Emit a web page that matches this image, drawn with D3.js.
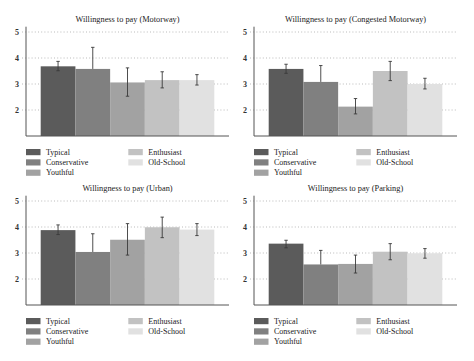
<!DOCTYPE html>
<html>
<head>
<meta charset="utf-8">
<script src="https://cdn.jsdelivr.net/npm/d3@7"></script>
<style>
body { margin: 0; background: #fff; }
svg text { font-family: "Liberation Serif", "DejaVu Serif", serif; fill: #222; }
</style>
</head>
<body>
<div id="chart"></div>
<script>
// groups of drivers, same for every panel
var groups = ["Typical", "Conservative", "Youthful", "Enthusiast", "Old-School"];
var colors = ["#5b5b5b", "#808080", "#a2a2a2", "#c2c2c2", "#e1e1e1"];
var yTicks = [2, 3, 4, 5];

// mean and confidence bounds
var motorwayMean = [3.68, 3.58, 3.06, 3.15, 3.15];
var motorwayLow = [3.51, 3.58, 2.53, 2.85, 2.96];
var motorwayHigh = [3.87, 4.41, 3.62, 3.47, 3.36];

var congestedMean = [3.58, 3.08, 2.13, 3.50, 3.00];
var congestedLow = [3.41, 3.08, 1.85, 3.13, 2.81];
var congestedHigh = [3.76, 3.71, 2.44, 3.87, 3.22];

var urbanMean = [3.88, 3.04, 3.51, 3.99, 3.90];
var urbanLow = [3.71, 3.04, 2.92, 3.59, 3.67];
var urbanHigh = [4.08, 3.74, 4.13, 4.38, 4.13];

var parkingMean = [3.36, 2.56, 2.58, 3.05, 2.99];
var parkingLow = [3.20, 2.56, 2.23, 2.74, 2.80];
var parkingHigh = [3.49, 3.10, 2.92, 3.36, 3.17];

var panels = [
    {title: "Willingness to pay (Motorway)", mean: motorwayMean, low: motorwayLow, high: motorwayHigh, x: 26, y: 0},
    {title: "Willingness to pay (Congested Motorway)", mean: congestedMean, low: congestedLow, high: congestedHigh, x: 254, y: 0},
    {title: "Willingness to pay (Urban)", mean: urbanMean, low: urbanLow, high: urbanHigh, x: 26, y: 169},
    {title: "Willingness to pay (Parking)", mean: parkingMean, low: parkingLow, high: parkingHigh, x: 254, y: 169}
];

var svg = d3.select("#chart")
    .append("svg")
    .attr("width", 474)
    .attr("height", 361);

var plotW = 203;

function drawPanel(p) {
    "use strict";
    var g = svg.append("g").attr("transform", "translate(" + p.x + "," + p.y + ")");

    //Scales: bars take the middle of the axis, equal padding both sides
    var x = d3.scaleBand()
        .domain(groups)
        .range([14.7, plotW - 14.7])
        .padding(0);
    var y = d3.scaleLinear()
        .domain([1, 5.2])
        .range([136, 26.8]);

    //Title
    g.append("text")
        .attr("x", plotW / 2)
        .attr("y", 22)
        .attr("text-anchor", "middle")
        .style("font-size", "8.3px")
        .text(p.title);

    //Dotted grid lines behind the bars
    g.selectAll(".grid")
        .data(yTicks)
        .enter()
        .append("line")
        .attr("x1", -4)
        .attr("x2", plotW)
        .attr("y1", function (d) { return y(d); })
        .attr("y2", function (d) { return y(d); })
        .attr("stroke", "#aaa")
        .attr("stroke-width", 0.8)
        .attr("stroke-dasharray", "1,2.2");

    //Y axis with tick labels
    var yAxis = g.append("g")
        .call(d3.axisLeft(y).tickValues(yTicks).tickSize(0).tickPadding(7).tickFormat(d3.format("d")));
    yAxis.select(".domain").remove();
    yAxis.selectAll("text")
        .style("font-size", "8px")
        .style("font-weight", "bold")
        .style("fill", "#333");

    //Bars
    g.selectAll(".bar")
        .data(groups)
        .enter()
        .append("rect")
        .attr("x", function (d) { return x(d); })
        .attr("width", x.bandwidth())
        .attr("y", function (d, i) { return y(p.mean[i]); })
        .attr("height", function (d, i) { return y(1) - y(p.mean[i]); })
        .attr("fill", function (d, i) { return colors[i]; });

    //Error bars
    var err = g.selectAll(".err")
        .data(groups)
        .enter()
        .append("g")
        .attr("transform", function (d) { return "translate(" + (x(d) + x.bandwidth() / 2) + ",0)"; });
    err.append("line")
        .attr("y1", function (d, i) { return y(p.low[i]); })
        .attr("y2", function (d, i) { return y(p.high[i]); })
        .attr("stroke", "#3a3a3a")
        .attr("stroke-width", 0.9);
    err.append("line")
        .attr("x1", -1.7)
        .attr("x2", 1.7)
        .attr("y1", function (d, i) { return y(p.high[i]); })
        .attr("y2", function (d, i) { return y(p.high[i]); })
        .attr("stroke", "#3a3a3a")
        .attr("stroke-width", 0.9);
    err.filter(function (d, i) { return p.low[i] < p.mean[i]; })
        .append("line")
        .attr("x1", -1.7)
        .attr("x2", 1.7)
        .attr("y1", function (d) { var i = groups.indexOf(d); return y(p.low[i]); })
        .attr("y2", function (d) { var i = groups.indexOf(d); return y(p.low[i]); })
        .attr("stroke", "#3a3a3a")
        .attr("stroke-width", 0.9);

    //Axis lines
    g.append("line")
        .attr("x1", 0).attr("x2", 0)
        .attr("y1", 26.7).attr("y2", y(1))
        .attr("stroke", "#555").attr("stroke-width", 1);
    g.append("line")
        .attr("x1", 0).attr("x2", plotW)
        .attr("y1", y(1)).attr("y2", y(1))
        .attr("stroke", "#555").attr("stroke-width", 1);

    //Legend: two columns, three rows then two
    var legend = g.selectAll(".legend")
        .data(groups)
        .enter()
        .append("g")
        .attr("transform", function (d, i) {
            var col = i < 3 ? 0 : 1;
            var row = i < 3 ? i : i - 3;
            return "translate(" + (col * 102.3) + "," + (y(1) + 13 + row * 10.3) + ")";
        });
    legend.append("rect")
        .attr("width", 14.5)
        .attr("height", 6.2)
        .attr("fill", function (d, i) { return colors[i]; });
    legend.append("text")
        .attr("x", 20)
        .attr("y", 5.8)
        .style("font-size", "8px")
        .text(function (d) { return d; });
}

panels.forEach(drawPanel);
</script>
</body>
</html>
